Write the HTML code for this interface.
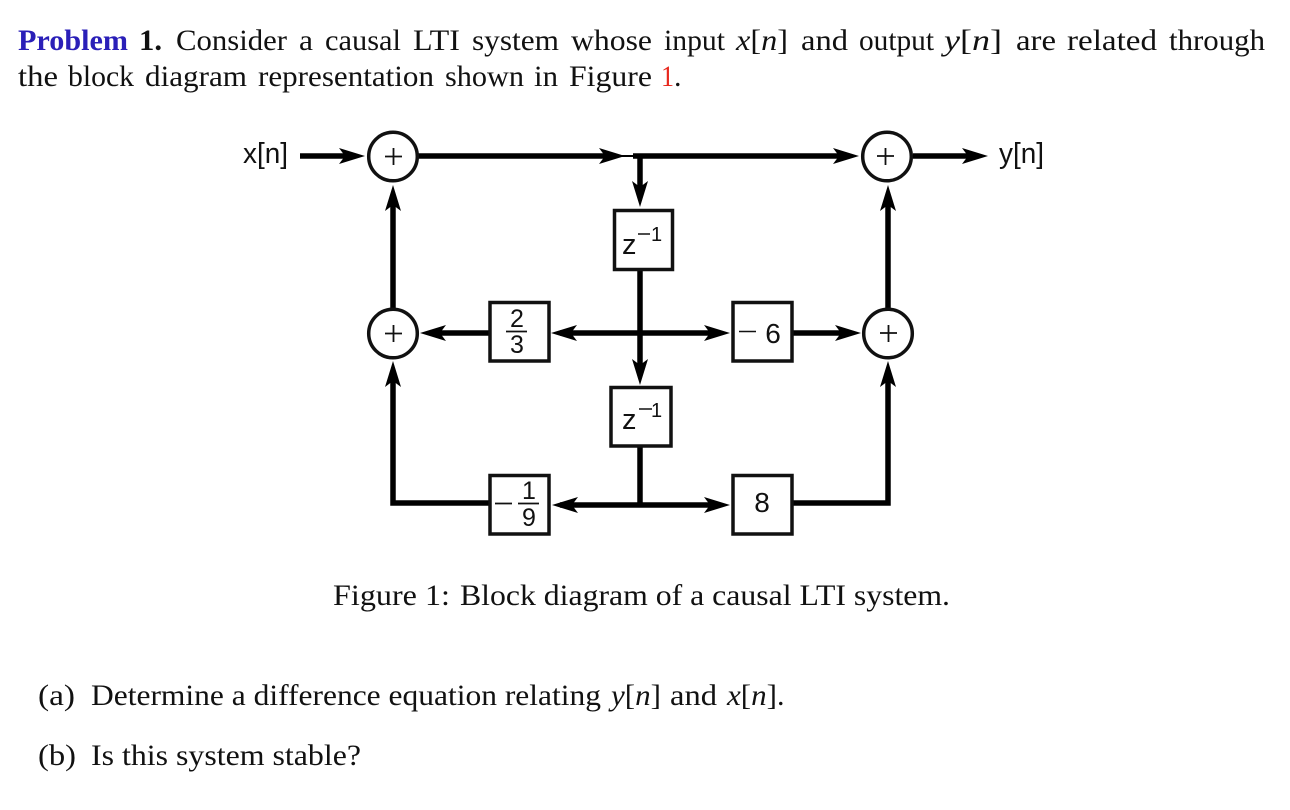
<!DOCTYPE html>
<html><head><meta charset="utf-8"><style>
html,body{margin:0;padding:0;background:#fff}
svg{display:block}
.t{font-family:"Liberation Serif",serif;font-size:30px;fill:#111}
.i{font-style:italic}
.s{font-family:"Liberation Sans",sans-serif;fill:#111}
</style></head><body>
<svg width="1290" height="810" viewBox="0 0 1290 810" xmlns="http://www.w3.org/2000/svg">
<defs>
<g id="ar"><path d="M0 0L-26 -8L-20 0L-26 8Z" fill="#000"/></g>
</defs>
<g class="t" lengthAdjust="spacingAndGlyphs">
<text lengthAdjust="spacingAndGlyphs" x="18" y="50" textLength="110" style="font-weight:bold;fill:#2a1fb8">Problem</text>
<text lengthAdjust="spacingAndGlyphs" x="139" y="50" textLength="23" style="font-weight:bold">1.</text>
<text lengthAdjust="spacingAndGlyphs" x="176" y="50" textLength="111">Consider</text>
<text lengthAdjust="spacingAndGlyphs" x="299" y="50" textLength="14">a</text>
<text lengthAdjust="spacingAndGlyphs" x="325" y="50" textLength="76">causal</text>
<text lengthAdjust="spacingAndGlyphs" x="413" y="50" textLength="47">LTI</text>
<text lengthAdjust="spacingAndGlyphs" x="472" y="50" textLength="87">system</text>
<text lengthAdjust="spacingAndGlyphs" x="571" y="50" textLength="81">whose</text>
<text lengthAdjust="spacingAndGlyphs" x="664" y="50" textLength="61">input</text>
<text lengthAdjust="spacingAndGlyphs" x="736" y="50" textLength="52"><tspan class="i">x</tspan>[<tspan class="i">n</tspan>]</text>
<text lengthAdjust="spacingAndGlyphs" x="801" y="50" textLength="47">and</text>
<text lengthAdjust="spacingAndGlyphs" x="859" y="50" textLength="75">output</text>
<text lengthAdjust="spacingAndGlyphs" x="944" y="50" textLength="58"><tspan class="i">y</tspan>[<tspan class="i">n</tspan>]</text>
<text lengthAdjust="spacingAndGlyphs" x="1016" y="50" textLength="40">are</text>
<text lengthAdjust="spacingAndGlyphs" x="1067" y="50" textLength="90">related</text>
<text lengthAdjust="spacingAndGlyphs" x="1169" y="50" textLength="96">through</text>
<text lengthAdjust="spacingAndGlyphs" x="18" y="86" textLength="40">the</text>
<text lengthAdjust="spacingAndGlyphs" x="68" y="86" textLength="66">block</text>
<text lengthAdjust="spacingAndGlyphs" x="145" y="86" textLength="102">diagram</text>
<text lengthAdjust="spacingAndGlyphs" x="258" y="86" textLength="176">representation</text>
<text lengthAdjust="spacingAndGlyphs" x="445" y="86" textLength="79">shown</text>
<text lengthAdjust="spacingAndGlyphs" x="534" y="86" textLength="24">in</text>
<text lengthAdjust="spacingAndGlyphs" x="569" y="86" textLength="83">Figure</text>
<text lengthAdjust="spacingAndGlyphs" x="661" y="86" textLength="13" style="fill:#e8281e">1</text>
<text x="674" y="86">.</text>
<text lengthAdjust="spacingAndGlyphs" x="333" y="605" textLength="117">Figure 1:</text>
<text lengthAdjust="spacingAndGlyphs" x="460" y="605" textLength="490">Block diagram of a causal LTI system.</text>
<text lengthAdjust="spacingAndGlyphs" x="38" y="705" textLength="37">(a)</text>
<text lengthAdjust="spacingAndGlyphs" x="91" y="705" textLength="510">Determine a difference equation relating</text>
<text lengthAdjust="spacingAndGlyphs" x="611" y="705" textLength="50"><tspan class="i">y</tspan>[<tspan class="i">n</tspan>]</text>
<text lengthAdjust="spacingAndGlyphs" x="670" y="705" textLength="47">and</text>
<text lengthAdjust="spacingAndGlyphs" x="727" y="705" textLength="50"><tspan class="i">x</tspan>[<tspan class="i">n</tspan>]</text>
<text x="777" y="705">.</text>
<text lengthAdjust="spacingAndGlyphs" x="38" y="765" textLength="38">(b)</text>
<text lengthAdjust="spacingAndGlyphs" x="91" y="765" textLength="270">Is this system stable?</text>
</g>

<g stroke="#000" stroke-width="5.500" fill="none">
<path d="M300 156H345M418 156H612M633 156H845M640 156V190"/>
<path d="M393 195V308"/>
<path d="M640 270V365M640 447V505"/>
<path d="M430 333H489M560 333H712M792 333H845"/>
<path d="M913 156H970"/>
<path d="M888 195V308"/>
<path d="M489 503H393V372"/>
<path d="M560 505H712"/>
<path d="M792 503H888V372"/>
</g>
<path d="M620 156H634" stroke="#000" stroke-width="2"/>
<use href="#ar" transform="translate(365,156)"/>
<use href="#ar" transform="translate(625,156)"/>
<use href="#ar" transform="translate(859,156)"/>
<use href="#ar" transform="translate(988,156)"/>
<use href="#ar" transform="translate(640,207) rotate(90)"/>
<use href="#ar" transform="translate(640,385) rotate(90)"/>
<use href="#ar" transform="translate(393,185) rotate(-90)"/>
<use href="#ar" transform="translate(888,185) rotate(-90)"/>
<use href="#ar" transform="translate(393,361) rotate(-90)"/>
<use href="#ar" transform="translate(888,361) rotate(-90)"/>
<use href="#ar" transform="translate(420,333) rotate(180)"/>
<use href="#ar" transform="translate(551,333) rotate(180)"/>
<use href="#ar" transform="translate(730,333)"/>
<use href="#ar" transform="translate(861,333)"/>
<use href="#ar" transform="translate(552,505) rotate(180)"/>
<use href="#ar" transform="translate(730,505)"/>

<g fill="#fff" stroke="#111" stroke-width="3.500">
<circle cx="393" cy="156.500" r="24.300"/>
<circle cx="393" cy="333.500" r="24.300"/>
<circle cx="887" cy="156.500" r="24.300"/>
<circle cx="888" cy="333.500" r="24.300"/>
<rect x="614.500" y="210.500" width="58" height="59"/>
<rect x="611" y="387.500" width="60" height="58.500"/>
<rect x="490" y="302.500" width="59" height="58.500"/>
<rect x="733" y="302.500" width="59" height="58.500"/>
<rect x="490" y="475.500" width="59" height="58.500"/>
<rect x="733" y="475.500" width="59" height="58.500"/>
</g>
<g stroke="#111" stroke-width="1.800">
<path d="M385 156.500H402M393.500 148V165"/>
<path d="M385 333.500H402M393.500 325V342"/>
<path d="M877 156H894M885.500 148V165"/>
<path d="M880 333H897M888.500 325V342"/>
<path d="M506 331.500H527"/>
<path d="M739 331.500H756" stroke-width="1.500"/>
<path d="M495 503.500H512M518 503.500H539"/>
<path d="M638 234H650" stroke-width="1.500"/>
<path d="M639 409H652" stroke-width="1.500"/>
</g>
<g class="s">
<text x="243" y="163" font-size="29" textLength="45" lengthAdjust="spacingAndGlyphs">x[n]</text>
<text x="999" y="163" font-size="29" textLength="45" lengthAdjust="spacingAndGlyphs">y[n]</text>
<text x="622" y="254" font-size="29">z</text>
<text x="651" y="241" font-size="20">1</text>
<text x="622" y="429" font-size="29">z</text>
<text x="651" y="417" font-size="20">1</text>
<text x="517" y="327" font-size="25" text-anchor="middle">2</text>
<text x="517" y="353" font-size="25" text-anchor="middle">3</text>
<text x="773" y="343" font-size="28" text-anchor="middle">6</text>
<text x="529" y="499" font-size="25" text-anchor="middle">1</text>
<text x="529" y="526" font-size="25" text-anchor="middle">9</text>
<text x="762" y="512" font-size="28" text-anchor="middle">8</text>
</g>
</svg>
</body></html>
